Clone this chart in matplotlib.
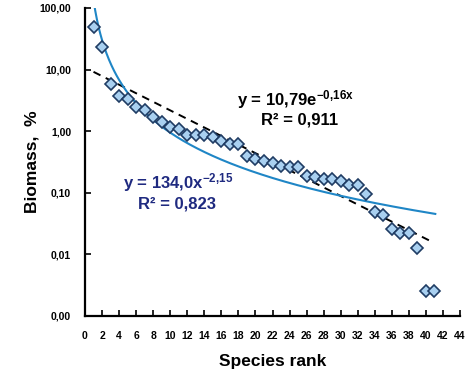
import numpy as np
import matplotlib
matplotlib.use("Agg")
import matplotlib.pyplot as plt
from matplotlib.ticker import FixedLocator, FuncFormatter

plt.rcParams['font.family'] = ['Liberation Sans', 'DejaVu Sans']
plt.rcParams['mathtext.fontset'] = 'custom'
plt.rcParams['mathtext.rm'] = 'Liberation Sans'
plt.rcParams['mathtext.bf'] = 'Liberation Sans:bold'
plt.rcParams['mathtext.it'] = 'Liberation Sans:italic'

rank = list(range(1, 42))
biomass = [49, 23, 5.8, 3.7, 3.3, 2.5, 2.2, 1.7, 1.4, 1.17,
           1.08, 0.88, 0.88, 0.87, 0.81, 0.69, 0.62, 0.62, 0.40, 0.36,
           0.33, 0.30, 0.27, 0.26, 0.26, 0.19, 0.18, 0.17, 0.17, 0.155,
           0.135, 0.135, 0.096, 0.049, 0.044, 0.026, 0.022, 0.022, 0.0125, 0.0025,
           0.0025]

exp_a, exp_b = 10.79, -0.16
pow_a, pow_b = 134.0, -2.15
yticks = [0.001, 0.01, 0.1, 1, 10, 100]

fig = plt.figure(figsize=(4.74, 3.78), dpi=100)
ax = fig.add_axes([85/474, 1-316/378, (460-85)/474, (316-8)/378])

xe = np.linspace(1, 40.5, 200)
ax.plot(xe, exp_a*np.exp(exp_b*xe), color='black', ls=(0, (4, 3)), lw=1.4, zorder=2)
xp = np.linspace(1.0, 41.1, 400)
ax.plot(xp, pow_a*xp**pow_b, color='#1f86c6', lw=1.5, zorder=2)
ax.plot(rank, biomass, ls='none', marker='D', ms=6.2, mfc='#a9d0f0', mec='#1f3c64', mew=1.2, zorder=3)

ax.set_yscale('log')
ax.set_ylim(0.001, 100)
ax.set_xlim(0, 44)
ax.yaxis.set_major_locator(FixedLocator(yticks))
ax.yaxis.set_minor_locator(FixedLocator([]))
ax.yaxis.set_major_formatter(FuncFormatter(lambda v, p: f"{v:.2f}".replace('.', ',')))
ax.set_xticks(range(0, 45, 2))
for s in ['top', 'right']:
    ax.spines[s].set_visible(False)
for s in ['left', 'bottom']:
    ax.spines[s].set_linewidth(1.6)
ax.tick_params(direction='in', length=4, width=1.2, labelsize=7.5)
ax.tick_params(axis='y', pad=10)
ax.tick_params(axis='x', pad=11)
for lab in ax.get_xticklabels() + ax.get_yticklabels():
    lab.set_fontweight('bold')
ax.set_xlabel('Species rank', fontsize=12.5, fontweight='bold', labelpad=9)
ax.set_ylabel('Biomass,  %', fontsize=12.5, fontweight='bold', labelpad=0)

def ftext(x, y, s, color):
    fig.text(x/474, 1-y/378, s, fontsize=12, fontweight='bold', ha='center', va='center', color=color)

ftext(296, 100, r'y = 10,79e$^{\mathbf{-0{,}16x}}$', 'black')
ftext(300, 120, 'R² = 0,911', 'black')
ftext(178, 183, r'y = 134,0x$^{\mathbf{-2{,}15}}$', '#1f2a80')
ftext(177, 204, 'R² = 0,823', '#1f2a80')

fig.savefig('out.png', dpi=100, facecolor='white')
